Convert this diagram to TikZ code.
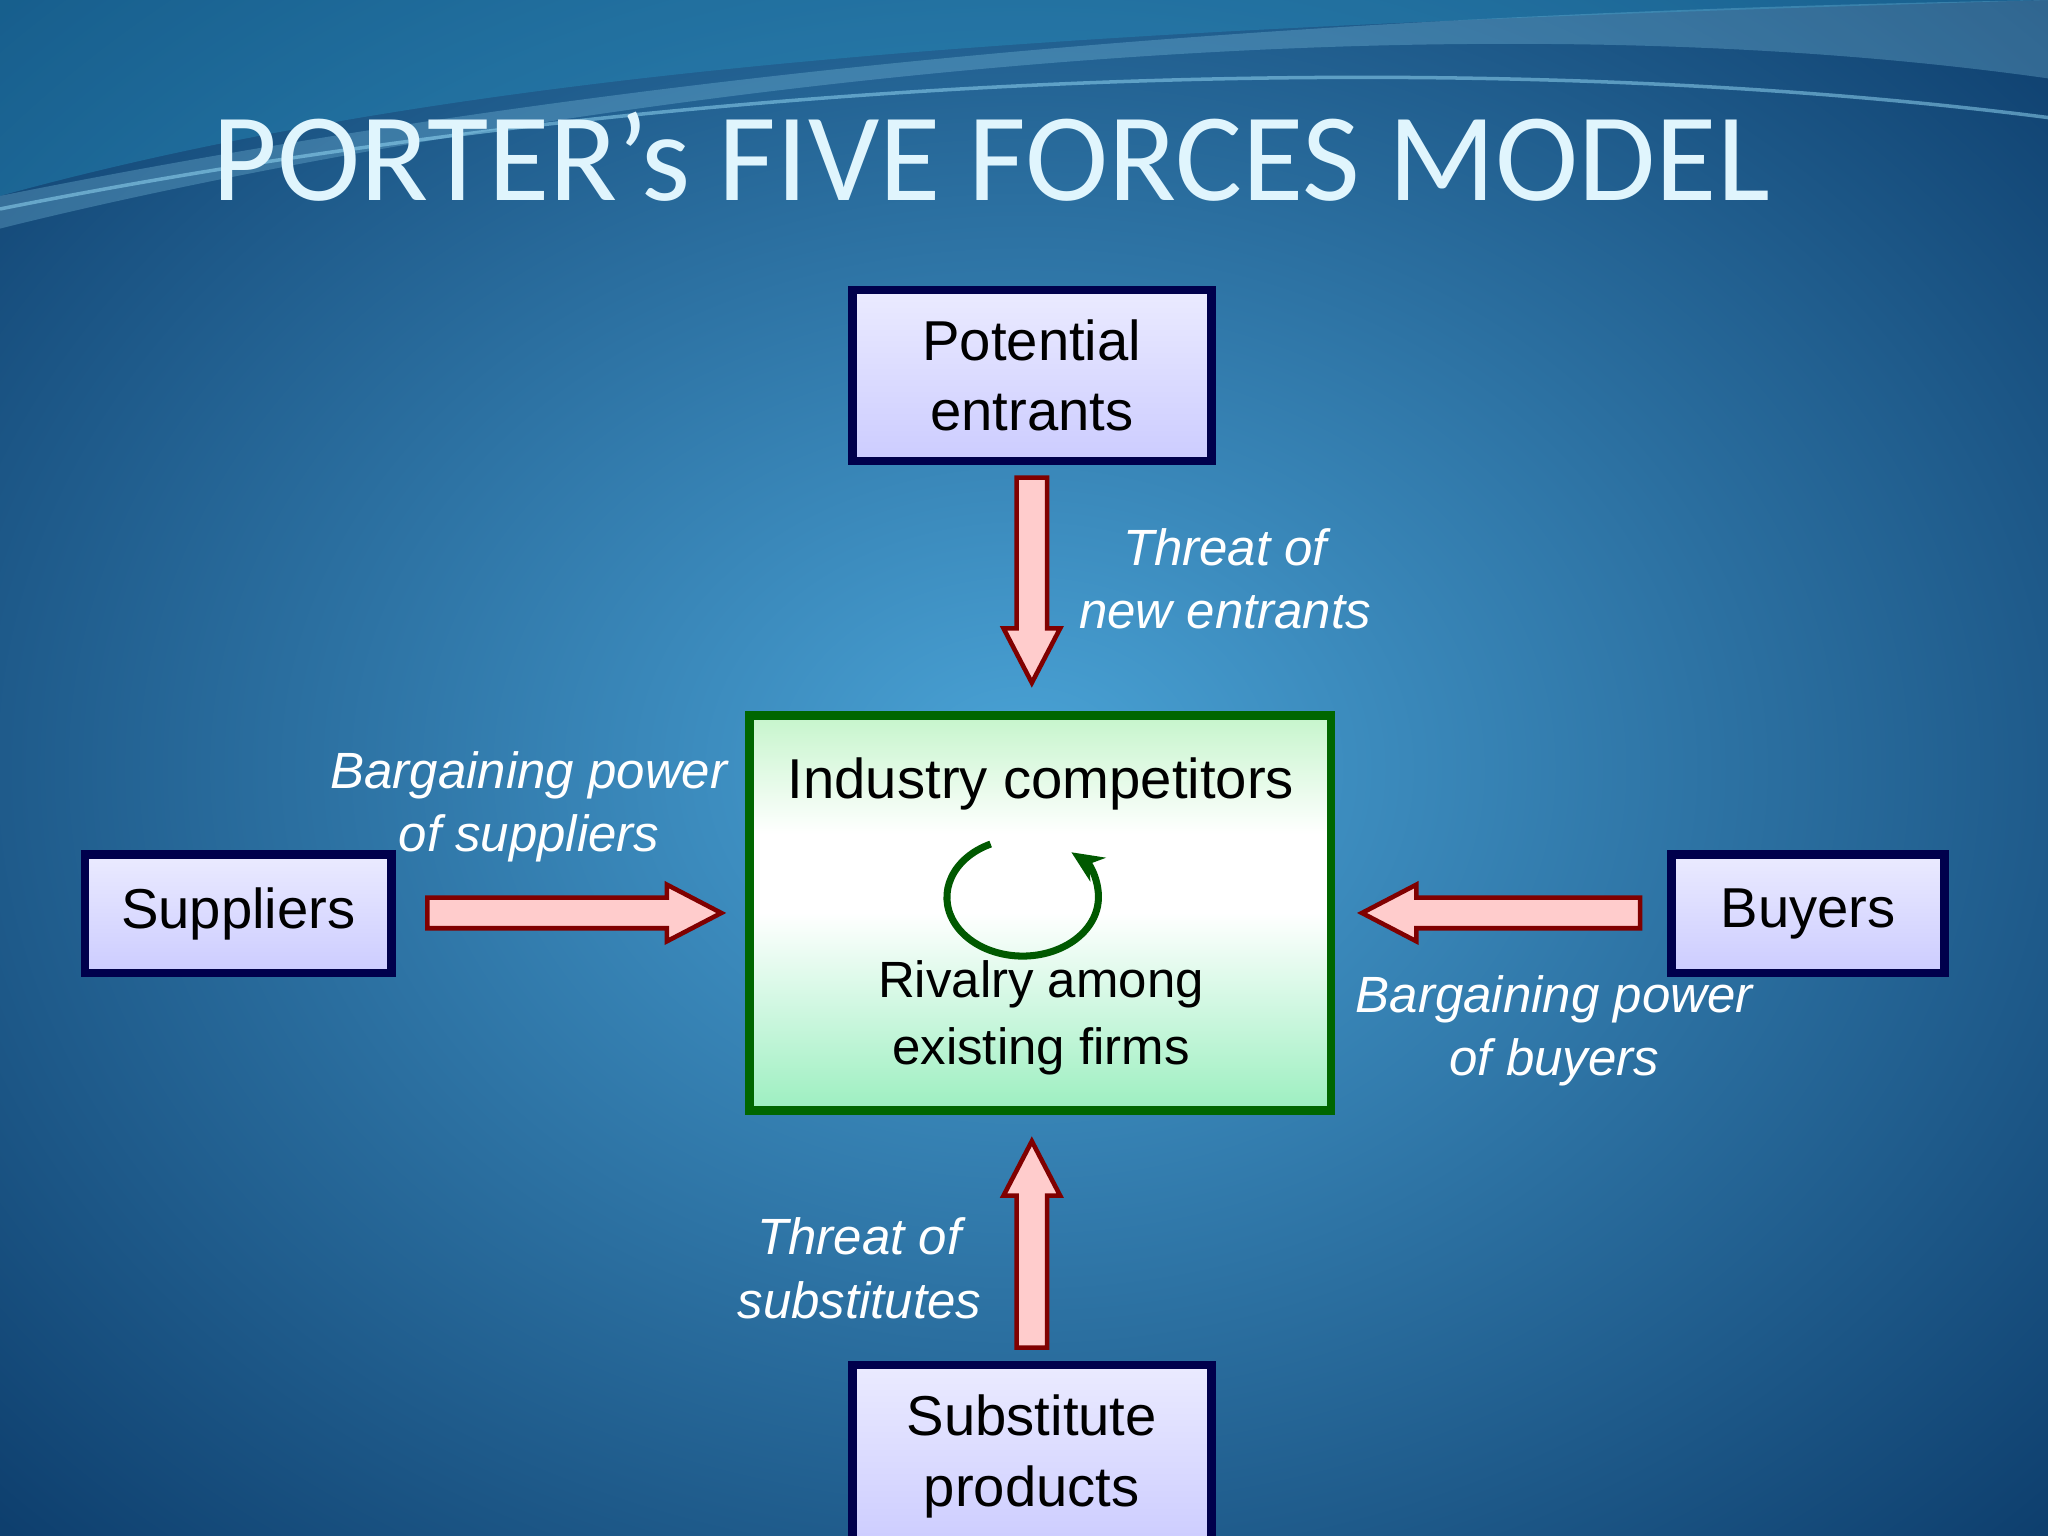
\documentclass[tikz,border=0pt]{standalone}
\usepackage{fontspec}
\setmainfont{Liberation Sans}
\newfontfamily\titlefont{Carlito}
\usetikzlibrary{shapes.arrows,arrows.meta}
\definecolor{bgc}{HTML}{4AA3D6}
\definecolor{bge}{HTML}{0E3F6E}
\definecolor{gbot}{HTML}{9CEFC0}
\definecolor{gtop}{HTML}{C6F5CC}
\pgfdeclareverticalshading{indsh}{100bp}{color(0bp)=(gbot); color(25bp)=(gbot); color(50bp)=(white); color(60bp)=(white); color(75bp)=(gtop); color(100bp)=(gtop)}
\begin{document}
\begin{tikzpicture}[x=0.013061cm,y=-0.013061cm,
  box/.style={draw=blue!30!black,line width=2.5pt,top color=white!92!blue,bottom color=blue!20!white,font=\fontsize{16}{20}\selectfont,align=center,inner sep=0},
  lab/.style={text=white,font=\itshape\fontsize{14.5}{18}\selectfont,align=center},
  farrow/.style={single arrow,draw=red!50!black,line width=1.3pt,fill=red!20!white,inner xsep=0,inner ysep=0.13cm,single arrow head extend=0.13cm,single arrow tip angle=55,single arrow head indent=0},
]
\useasboundingbox (0,0) rectangle (1568,1176);
\shade[inner color=bgc,outer color=bge] (-300,-250) rectangle (1868,1426);
\fill[cyan!60!teal,opacity=0.35] (0,150) .. controls (400,40) and (900,20) .. (1568,0) -- (1568,-10) -- (0,-10) -- cycle;
\fill[cyan!40!white,opacity=0.25] (0,175) .. controls (300,100) and (1000,-20) .. (1568,60) -- (1568,0) .. controls (1000,10) and (500,50) .. (0,150) -- cycle;
\draw[cyan!40!white,opacity=0.5,line width=1pt] (0,160) .. controls (500,60) and (1100,30) .. (1568,90);
\node[text=cyan!12!white,font=\titlefont\fontsize{35.7}{40}\selectfont] (title) at (759,120) {PORTER’s FIVE FORCES MODEL};

\node[box,minimum width=275*0.013061cm,minimum height=131*0.013061cm] (pe) at (790,287.5) {Potential\\entrants};
\node[box,minimum width=235*0.013061cm,minimum height=91*0.013061cm] (sup) at (182.5,699.5) {Suppliers};
\node[box,minimum width=209*0.013061cm,minimum height=91*0.013061cm] (buy) at (1384.5,699.5) {Buyers};
\node[box,minimum width=275*0.013061cm,minimum height=140*0.013061cm] (sp) at (790,1115) {Substitute\\products};
\node[draw=green!40!black,line width=2.5pt,shading=indsh,minimum width=445*0.013061cm,minimum height=302*0.013061cm] (ind) at (796.5,699) {};
\node[font=\fontsize{16}{20}\selectfont] (ic) at (797,600) {Industry competitors};
\node[font=\fontsize{14.5}{19}\selectfont,align=center] (rv) at (797,779) {Rivalry among\\existing firms};
\draw[green!35!black,line width=2pt,-{Stealth[length=9pt,width=8pt]}] (783,687) ++(-115:58 and 45) coordinate (cs) arc[start angle=-115,end angle=-410,x radius=58,y radius=45];

\node[farrow,minimum height=157*0.013061cm,rotate=-90] (a1) at (790,433) {};
\node[farrow,minimum height=225*0.013061cm] (a2) at (428.5,699) {};
\node[farrow,minimum height=213*0.013061cm,rotate=180] (a3) at (1160.5,699) {};
\node[farrow,minimum height=158*0.013061cm,rotate=90] (a4) at (790,964) {};

\node[lab] (l1) at (938,443) {Threat of\\new entrants};
\node[lab] (l2) at (405,618) {Bargaining power\\of suppliers};
\node[lab] (l3) at (1190,789) {Bargaining power\\of buyers};
\node[lab] (l4) at (658,971) {Threat of\\substitutes};
\end{tikzpicture}
\end{document}
